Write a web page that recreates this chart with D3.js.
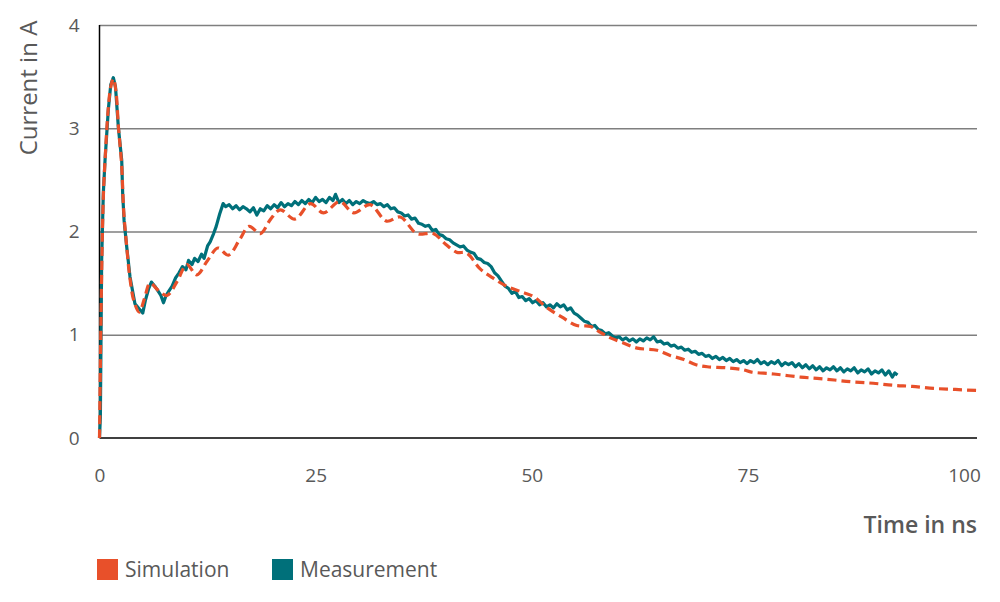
<!DOCTYPE html>
<html>
<head>
<meta charset="utf-8">
<script src="https://cdn.jsdelivr.net/npm/d3@7"></script>
<style>
  body { margin: 0; background: #fff; }
  svg { display: block; }
  text { font-family: "Open Sans", "Noto Sans", sans-serif; fill: #595959; }
</style>
</head>
<body>
<svg id="chart" width="1000" height="602"></svg>
<script>
// ---- data ----
const xTicks = [0, 25, 50, 75, 100];
const yTicks = [0, 1, 2, 3, 4];
const seriesNames = ["Simulation", "Measurement"];
const seriesColors = ["#E8502A", "#00707A"];

// Simulation: [time ns, current A]
const simulation = [
  [0,0],[0.25,1.6],[0.45,2.35],[0.65,2.7],[1.0,3.18],[1.3,3.4],[1.6,3.48],[1.9,3.36],
  [2.2,3.0],[2.55,2.66],[2.8,2.2],[3.15,1.85],[3.5,1.56],[4.0,1.32],[4.6,1.22],[5.2,1.35],
  [5.85,1.50],[6.8,1.43],[7.8,1.38],[9.0,1.52],[10.1,1.68],[11.25,1.58],[12.5,1.72],[13.7,1.84],
  [14.9,1.77],[16.2,1.92],[17.3,2.05],[18.6,1.98],[19.8,2.12],[20.9,2.21],[22.6,2.12],[24.4,2.27],
  [25.9,2.18],[27.8,2.29],[29.4,2.18],[31.3,2.26],[33.2,2.10],[34.8,2.14],[36.7,1.98],[38.6,1.98],
  [40.0,1.88],[41.3,1.80],[42.5,1.79],[44.0,1.64],[45.5,1.55],[47.1,1.47],[49.0,1.41],[50.2,1.37],
  [51.8,1.26],[53.5,1.17],[55.2,1.09],[56.8,1.08],[58.0,1.02],[59.1,0.97],[60.6,0.92],[62.2,0.87],
  [64.5,0.85],[66.0,0.80],[67.6,0.76],[69.0,0.71],[70.3,0.69],[72.5,0.68],[74.5,0.66],[75.3,0.64],
  [78,0.62],[81.1,0.59],[84,0.57],[86.9,0.545],[89.5,0.53],[91.9,0.51],[94,0.50],[96.5,0.48],
  [99,0.47],[101.5,0.46]
];

// Measurement: [time ns, current A]
const measurement = [
  [0,0],[0.1,0.2],[0.25,1.72],[0.44,2.37],[0.64,2.69],[1.02,3.18],[1.3,3.42],[1.6,3.49],[1.85,3.4],
  [2.18,3.01],[2.57,2.69],[2.68,2.37],[2.84,2.11],[3.15,1.85],[3.53,1.56],[4.1,1.30],[4.7,1.24],
  [5.0,1.21],[5.3,1.33],[5.7,1.45],[6.0,1.51],[6.4,1.47],[6.8,1.42],[7.1,1.38],[7.4,1.31],[7.7,1.38],
  [8.0,1.42],[8.4,1.47],[8.8,1.55],[9.2,1.60],[9.6,1.66],[10.0,1.63],[10.3,1.72],[10.7,1.68],[11.0,1.74],
  [11.4,1.71],[11.8,1.78],[12.1,1.74],[12.5,1.86],[12.8,1.90],[13.2,1.98],[13.5,2.05],[13.9,2.17],
  [14.3,2.27],[14.6,2.24],[15.0,2.26],[15.4,2.22],[15.8,2.25],[16.2,2.21],[16.6,2.24],[17.0,2.22],
  [17.4,2.19],[17.8,2.23],[18.2,2.16],[18.6,2.22],[19.0,2.20],[19.4,2.25],[19.8,2.22],[20.2,2.26],
  [20.6,2.23],[21.0,2.28],[21.4,2.24],[21.8,2.27],[22.2,2.25],[22.6,2.29],[23.0,2.26],[23.4,2.30],
  [23.8,2.27],[24.2,2.31],[24.6,2.28],[25.0,2.33],[25.4,2.29],[25.8,2.31],[26.2,2.28],[26.6,2.33],
  [27.0,2.30],[27.3,2.36],[27.7,2.28],[28.1,2.31],[28.5,2.27],[28.9,2.30],[29.3,2.26],[29.7,2.29],
  [30.1,2.27],[30.5,2.30],[30.9,2.28],[31.3,2.27],[31.7,2.29],[32.1,2.26],[32.5,2.27],[32.9,2.24],
  [33.3,2.26],[33.7,2.22],[34.1,2.23],[34.5,2.19],[34.9,2.18],[35.3,2.15],[35.7,2.16],[36.1,2.12],
  [36.5,2.13],[36.9,2.08],[37.3,2.07],[37.7,2.05],[38.1,2.06],[38.5,2.01],[38.9,2.02],[39.3,1.97],
  [39.7,1.96],[40.1,1.93],[40.5,1.92],[40.9,1.89],[41.3,1.87],[41.7,1.85],[42.1,1.86],[42.5,1.82],
  [42.9,1.80],[43.3,1.79],[43.7,1.74],[44.1,1.73],[44.5,1.70],[44.9,1.69],[45.3,1.66],[45.7,1.60],
  [46.1,1.57],[46.5,1.52],[46.9,1.47],[47.3,1.45],[47.7,1.40],[48.1,1.42],[48.5,1.36],[48.9,1.37],
  [49.3,1.33],[49.7,1.35],[50.1,1.31],[50.5,1.33],[50.9,1.29],[51.3,1.31],[51.7,1.27],[52.1,1.29],
  [52.5,1.26],[52.9,1.30],[53.3,1.27],[53.7,1.29],[54.1,1.24],[54.5,1.26],[54.9,1.21],[55.3,1.19],
  [55.7,1.16],[56.1,1.13],[56.5,1.12],[56.9,1.08],[57.3,1.09],[57.7,1.05],[58.1,1.04],[58.5,1.01],
  [58.9,1.02],[59.3,0.99],[59.7,0.97],[60.1,0.98],[60.5,0.95],[60.9,0.97],[61.3,0.94],[61.7,0.96],
  [62.1,0.93],[62.5,0.96],[62.9,0.94],[63.3,0.97],[63.7,0.95],[64.1,0.98],[64.5,0.93],[64.9,0.94],
  [65.3,0.91],[65.7,0.92],[66.1,0.89],[66.5,0.90],[66.9,0.87],[67.3,0.88],[67.7,0.85],[68.1,0.86],
  [68.5,0.83],[68.9,0.84],[69.3,0.81],[69.7,0.82],[70.1,0.79],[70.5,0.80],[70.9,0.77],[71.3,0.79],
  [71.7,0.76],[72.1,0.78],[72.5,0.75],[72.9,0.77],[73.3,0.74],[73.7,0.76],[74.1,0.73],[74.5,0.75],
  [74.9,0.72],[75.3,0.75],[75.7,0.73],[76.1,0.76],[76.5,0.72],[76.9,0.74],[77.3,0.71],[77.7,0.74],
  [78.1,0.72],[78.5,0.75],[78.9,0.70],[79.3,0.73],[79.7,0.71],[80.1,0.73],[80.5,0.69],[80.9,0.72],
  [81.3,0.68],[81.7,0.71],[82.1,0.67],[82.5,0.70],[82.9,0.66],[83.3,0.69],[83.7,0.65],[84.1,0.68],
  [84.5,0.66],[84.9,0.69],[85.3,0.65],[85.7,0.68],[86.1,0.64],[86.5,0.67],[86.9,0.65],[87.3,0.68],
  [87.7,0.63],[88.1,0.66],[88.5,0.64],[88.9,0.67],[89.3,0.62],[89.7,0.65],[90.1,0.63],[90.5,0.66],
  [90.9,0.61],[91.3,0.65],[91.7,0.59],[92.0,0.63],[92.3,0.61]
];

// ---- layout ----
const svg = d3.select("#chart");
const plotL = 99.5, plotR = 977, plotT = 25, plotB = 438;

const x = d3.scaleLinear().domain([0, 101.5]).range([plotL, plotR]);
const y = d3.scaleLinear().domain([0, 4]).range([plotB, plotT]);

// gridlines
svg.append("g")
  .attr("transform", `translate(${plotL},0)`)
  .call(d3.axisLeft(y).tickValues(yTicks.filter(d => d > 0)).tickSize(-(plotR - plotL)).tickFormat(""))
  .call(g => g.select(".domain").remove())
  .call(g => g.selectAll("line").attr("stroke", "#7f7f7f").attr("stroke-width", 1.5));

// y tick labels
svg.append("g")
  .attr("transform", `translate(${plotL},0)`)
  .call(d3.axisLeft(y).tickValues(yTicks).tickSize(0).tickPadding(20).tickFormat(d3.format("d")))
  .call(g => g.select(".domain").remove())
  .call(g => g.selectAll("text").style("font-size", "19px").attr("fill", "#595959")
    .style("font-family", '"Open Sans", sans-serif'));

// x tick labels
svg.append("g")
  .attr("transform", `translate(0,${plotB})`)
  .call(d3.axisBottom(x).tickValues(xTicks).tickSize(0).tickPadding(31).tickFormat(d3.format("d")))
  .call(g => g.select(".domain").remove())
  .call(g => g.selectAll("text").style("font-size", "19px").attr("fill", "#595959")
    .style("font-family", '"Open Sans", sans-serif'));

// axis lines
svg.append("line").attr("x1", plotL).attr("x2", plotL).attr("y1", plotT).attr("y2", plotB)
  .attr("stroke", "#000").attr("stroke-width", 1.5);
svg.append("line").attr("x1", plotL).attr("x2", plotR).attr("y1", plotB).attr("y2", plotB)
  .attr("stroke", "#000").attr("stroke-width", 1.5);

// lines
const simLine = d3.line().x(d => x(d[0])).y(d => y(d[1])).curve(d3.curveCatmullRom.alpha(0.5));
const measLine = d3.line().x(d => x(d[0])).y(d => y(d[1])).curve(d3.curveLinear);

svg.append("path").datum(measurement)
  .attr("d", measLine).attr("fill", "none")
  .attr("stroke", seriesColors[1]).attr("stroke-width", 3.2).attr("stroke-linejoin", "round");

svg.append("path").datum(simulation)
  .attr("d", simLine).attr("fill", "none")
  .attr("stroke", seriesColors[0]).attr("stroke-width", 3.2)
  .attr("stroke-dasharray", "9,5");

// axis titles
svg.append("text")
  .attr("transform", `translate(37,88) rotate(-90)`)
  .attr("text-anchor", "middle")
  .style("font-size", "24px")
  .text("Current in A");

svg.append("text")
  .attr("x", plotR).attr("y", 533)
  .attr("text-anchor", "end")
  .style("font-size", "23px").style("font-weight", "600")
  .text("Time in ns");

// legend
const legendX = [97, 272];
seriesNames.forEach((name, i) => {
  svg.append("rect").attr("x", legendX[i]).attr("y", 559).attr("width", 21).attr("height", 21)
    .attr("fill", seriesColors[i]);
  svg.append("text").attr("x", legendX[i] + 28).attr("y", 577)
    .style("font-size", "21px").text(name);
});
</script>
</body>
</html>
